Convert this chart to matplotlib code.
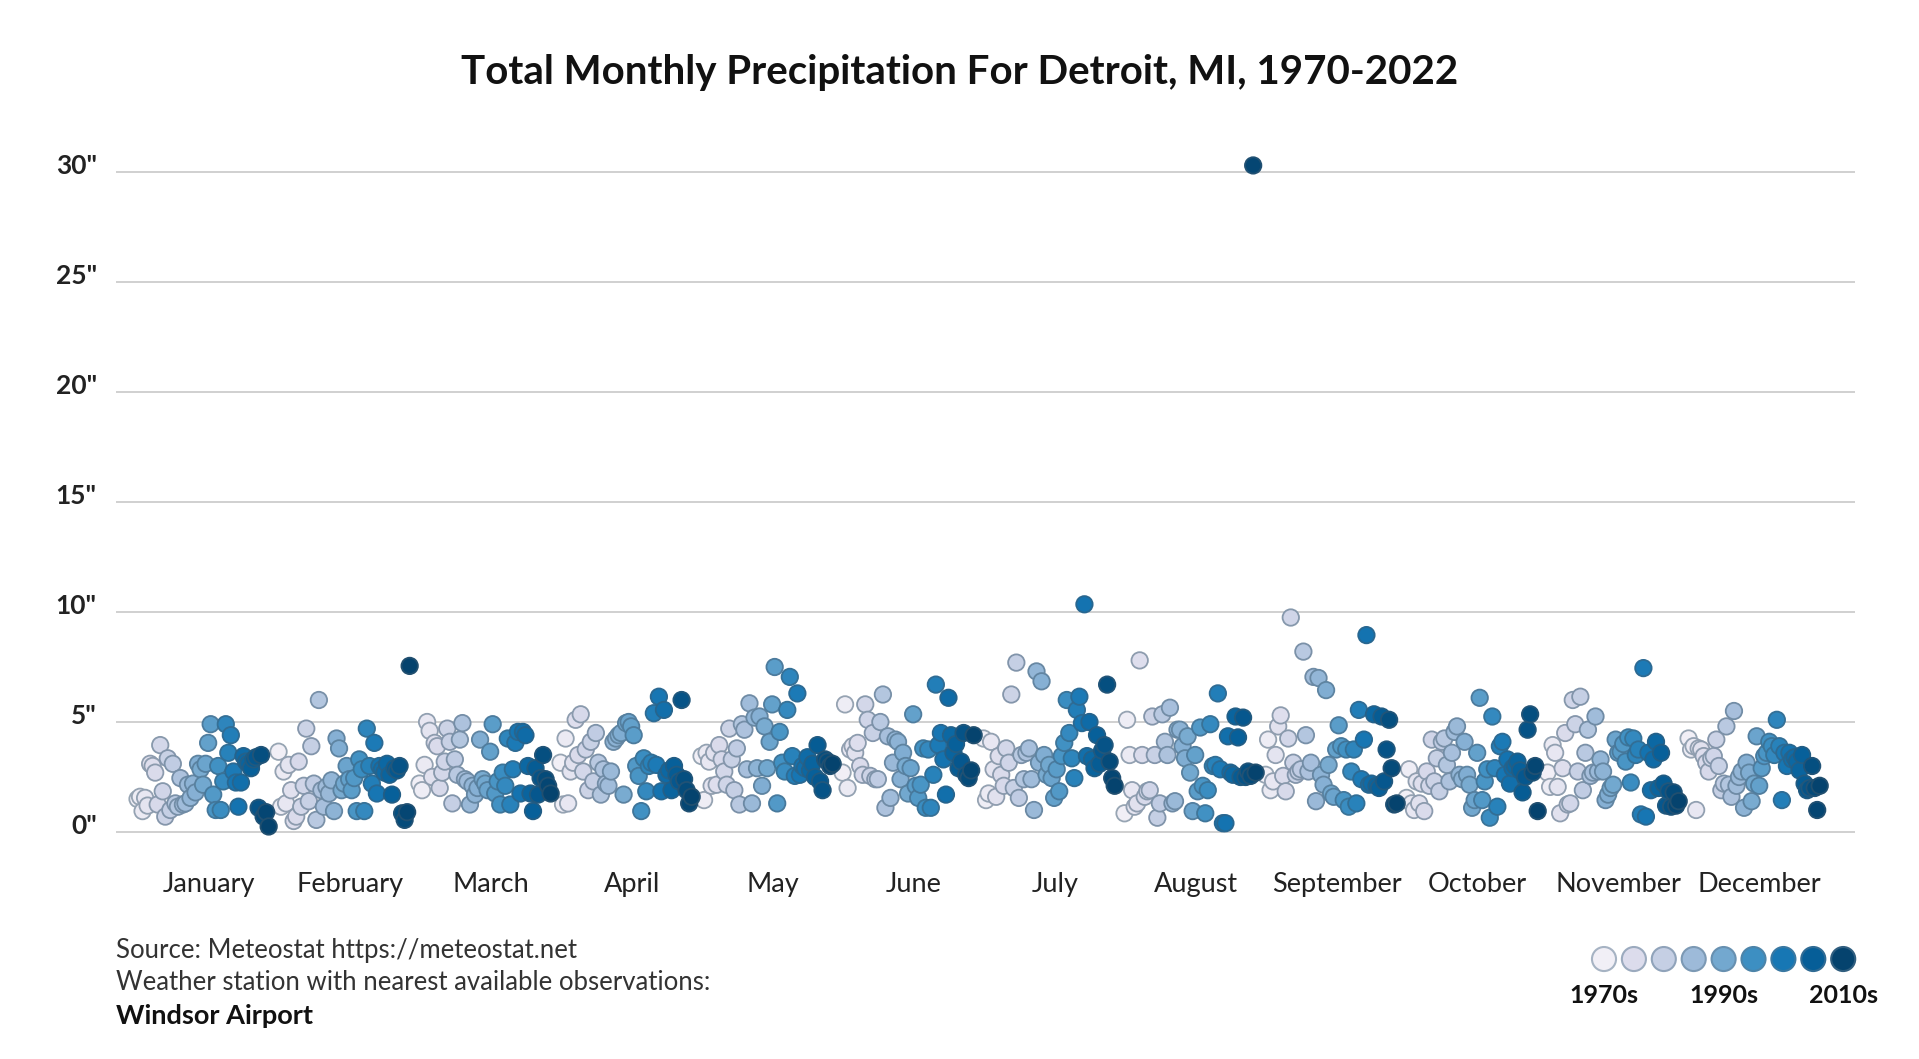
import matplotlib
matplotlib.use("Agg")
import matplotlib.pyplot as plt
import matplotlib.transforms as mtransforms
from matplotlib.colors import LinearSegmentedColormap, to_rgb
import numpy as np

plt.rcParams['font.family'] = ['Lato', 'DejaVu Sans']

months = ["January", "February", "March", "April", "May", "June",
          "July", "August", "September", "October", "November", "December"]
years = list(range(1970, 2023))

# total monthly precipitation (inches), one value per year 1970-2022
jan = [1.5, 1.6, 0.95, 1.55, 1.2, 3.1, 3.0, 2.7, 1.25, 3.95, 1.85, 0.7, 3.35, 1.0, 3.1, 1.3, 1.15, 2.45,
       1.25, 1.3, 2.15, 1.55, 2.2, 1.8, 3.1, 2.85, 2.15, 3.1, 4.05, 4.9, 1.7, 1.0, 3.0, 1.0, 2.3, 4.9,
       3.6, 4.4, 2.75, 2.25, 1.15, 2.25, 3.45, 3.2, 3.1, 2.9, 3.3, 3.4, 1.1, 3.5, 0.7, 0.9, 0.25]
feb = [3.65, 1.15, 2.75, 1.3, 3.05, 1.9, 0.5, 0.7, 3.2, 1.15, 2.1, 4.7, 1.4, 3.9, 2.2, 0.55, 6.0, 1.9,
       1.15, 2.05, 1.75, 2.35, 0.95, 4.25, 3.8, 1.9, 2.2, 3.0, 2.4, 1.9, 2.45, 0.95, 3.3, 2.85, 0.95, 4.7,
       3.0, 2.2, 4.05, 1.75, 3.0, 2.85, 2.7, 3.1, 2.6, 1.7, 2.9, 2.8, 3.0, 0.85, 0.55, 0.9, 7.55]
mar = [2.2, 1.9, 3.05, 5.0, 4.6, 2.5, 4.05, 3.9, 2.0, 2.7, 3.2, 4.7, 4.1, 1.3, 3.3, 2.6, 4.2, 4.95,
       2.4, 2.3, 1.25, 2.1, 1.7, 2.0, 4.2, 2.4, 2.2, 1.9, 3.65, 4.9, 1.75, 2.3, 1.25, 2.7, 2.1, 4.25,
       1.25, 2.85, 4.05, 4.55, 1.75, 4.55, 4.4, 3.0, 1.75, 0.95, 2.9, 1.7, 2.45, 3.5, 2.4, 2.1, 1.75]
apr = [3.15, 1.25, 4.25, 1.3, 2.75, 3.15, 5.1, 3.5, 5.35, 2.75, 3.75, 1.9, 4.1, 2.3, 4.5, 3.15, 1.7, 2.85,
       2.2, 2.1, 2.75, 4.1, 4.25, 4.4, 4.5, 1.7, 4.95, 5.0, 4.8, 4.4, 3.0, 2.55, 0.95, 3.35, 1.85, 3.0,
       3.15, 5.4, 3.05, 6.15, 1.85, 5.55, 2.6, 2.8, 1.9, 3.0, 2.6, 2.3, 6.0, 2.4, 1.9, 1.3, 1.6]
may = [3.45, 1.45, 3.6, 3.2, 2.1, 3.6, 2.15, 3.95, 3.3, 2.75, 2.15, 4.7, 3.3, 1.9, 3.8, 1.25, 4.9, 4.65,
       2.85, 5.85, 1.3, 5.2, 2.9, 5.25, 2.1, 4.8, 2.9, 4.1, 5.8, 7.5, 1.3, 4.55, 3.15, 2.75, 5.55, 7.05,
       3.45, 2.55, 6.3, 2.6, 3.0, 2.9, 3.4, 2.8, 3.1, 2.5, 3.95, 2.3, 1.9, 3.3, 3.2, 3.0, 3.1]
jun = [2.7, 5.8, 2.0, 3.75, 3.9, 3.6, 4.05, 3.0, 2.6, 5.8, 5.1, 2.55, 4.5, 2.4, 2.4, 5.0, 6.25, 1.1,
       4.35, 1.55, 3.15, 4.2, 4.1, 2.4, 3.6, 3.0, 1.75, 2.9, 5.35, 2.1, 1.55, 2.15, 3.8, 1.1, 3.75, 1.1,
       2.6, 6.7, 3.95, 4.5, 3.3, 1.7, 6.1, 4.4, 3.6, 4.0, 2.9, 3.2, 4.5, 2.6, 2.45, 2.8, 4.4]
jul = [4.25, 1.45, 1.75, 4.1, 2.85, 1.6, 3.45, 2.6, 2.1, 3.8, 3.15, 6.25, 2.0, 7.7, 1.55, 3.5, 2.4, 3.6,
       3.8, 2.4, 1.0, 7.3, 3.15, 6.85, 3.5, 2.6, 3.05, 2.45, 1.55, 2.85, 1.85, 3.45, 4.05, 6.0, 4.5, 3.35,
       2.45, 5.55, 6.15, 4.95, 10.35, 3.45, 5.0, 3.3, 2.9, 4.4, 3.1, 3.7, 3.95, 6.7, 3.2, 2.45, 2.1]
aug = [0.85, 5.1, 3.5, 1.9, 1.15, 1.3, 7.8, 3.5, 1.6, 1.85, 1.9, 5.25, 3.5, 0.65, 1.3, 5.35, 4.1, 3.5,
       5.65, 1.3, 1.4, 4.65, 4.65, 3.9, 3.35, 4.35, 2.7, 0.95, 3.5, 1.85, 4.75, 2.1, 0.85, 1.9, 4.9, 3.0,
       3.05, 6.3, 2.85, 0.4, 0.4, 4.35, 2.7, 2.6, 5.25, 4.3, 2.5, 5.2, 2.5, 2.75, 2.55, 30.3, 2.7]
sep = [2.6, 4.2, 1.9, 2.3, 3.5, 4.8, 5.3, 2.55, 1.85, 4.25, 9.75, 3.15, 2.6, 2.75, 2.85, 8.2, 4.4, 2.75,
       3.15, 7.05, 1.4, 7.0, 2.6, 2.15, 6.45, 3.05, 1.75, 1.6, 3.75, 4.85, 3.9, 1.45, 3.75, 1.15, 2.75, 3.75,
       1.3, 5.55, 2.4, 4.2, 8.95, 2.15, 2.2, 5.35, 2.1, 2.0, 5.25, 2.3, 3.75, 5.1, 2.9, 1.25, 1.3]
oct_ = [1.55, 2.85, 1.3, 1.0, 2.3, 1.3, 2.2, 0.95, 2.75, 2.1, 4.2, 2.3, 3.35, 1.85, 4.1, 4.25, 3.05, 2.3,
        3.6, 4.55, 4.8, 2.6, 2.4, 4.1, 2.6, 2.15, 1.1, 1.45, 3.6, 6.1, 1.45, 2.3, 2.85, 0.65, 5.25, 2.9,
        1.15, 3.9, 4.1, 2.6, 3.3, 2.2, 2.9, 3.0, 3.2, 2.8, 1.8, 2.5, 4.65, 5.35, 2.7, 3.0, 0.95]
nov = [2.7, 2.05, 3.95, 3.6, 2.05, 0.85, 2.9, 4.5, 1.25, 1.3, 6.0, 4.9, 2.75, 6.15, 1.9, 3.6, 4.65, 2.55,
       2.7, 5.25, 2.75, 3.3, 2.75, 1.45, 1.7, 2.0, 2.15, 4.2, 3.6, 3.65, 4.0, 3.2, 4.3, 2.25, 4.25, 3.5,
       3.75, 0.8, 7.45, 0.7, 3.6, 1.9, 3.3, 4.1, 2.0, 3.6, 2.2, 1.2, 1.85, 1.15, 1.8, 1.2, 1.4]
dec = [4.25, 3.75, 3.9, 1.0, 3.8, 3.75, 3.45, 3.15, 2.75, 3.35, 3.45, 4.2, 3.0, 1.9, 2.2, 4.8, 2.15, 1.6,
       5.5, 2.1, 2.5, 2.75, 1.1, 3.15, 2.7, 1.4, 2.2, 4.35, 2.1, 2.9, 3.45, 3.6, 4.1, 3.9, 3.5, 5.1,
       3.9, 1.45, 3.6, 3.0, 3.6, 3.3, 3.4, 3.2, 2.8, 3.5, 2.2, 1.9, 2.0, 3.0, 2.0, 1.0, 2.1]

precip = [jan, feb, mar, apr, may, jun, jul, aug, sep, oct_, nov, dec]

yticks = [0, 5, 10, 15, 20, 25, 30]
ytick_labels = ['0"', '5"', '10"', '15"', '20"', '25"', '30"']

decade_colors = ['#f1eff6', '#dcdcec', '#c5cfe4', '#9dbad9', '#73a8cf',
                 '#3d8fc2', '#1777b4', '#065e98', '#05436e']
legend_labels = ["1970s", "", "", "", "1990s", "", "", "", "2010s"]

cmap = LinearSegmentedColormap.from_list("dec", decade_colors)

# build points, year by year so newer dots sit on top
xs, ys, cs = [], [], []
for j, yr in enumerate(years):
    frac = j / (len(years) - 1)
    for m in range(12):
        xs.append(m + (frac - 0.5) * 0.93)
        ys.append(precip[m][j])
        cs.append(cmap(frac))
cs = np.array(cs)
edge = cs[:, :3] * 0.5 + np.array(to_rgb('#3d5a70')) * 0.5

fig = plt.figure(figsize=(19.19, 10.59), dpi=100)
ax = fig.add_axes([0.0605, 0.1832, 0.9062, 0.6855])

ax.scatter(xs, ys, s=140, c=cs, edgecolors=edge, linewidths=1.3, zorder=3)

ax.set_xlim(-0.617, 11.716)
ax.set_ylim(-1.5, 31.5)
ax.set_yticks(yticks)
ax.set_yticklabels(ytick_labels, fontsize=19, fontweight='bold', color='#222222')
ax.set_xticks([m + 0.04 for m in range(12)])
ax.set_xticklabels(months, fontsize=19.5, color='#222222')
ax.tick_params(axis='both', length=0)
ax.tick_params(axis='y', pad=14)
ax.tick_params(axis='x', pad=5)
ax.grid(True, axis='y', color='#c8c8c8', linewidth=1.2, zorder=0)
for s in ax.spines.values():
    s.set_visible(False)

# y labels sit a little above their gridline
lift = mtransforms.ScaledTranslation(0, 6 / 72, fig.dpi_scale_trans)
for lab in ax.get_yticklabels():
    lab.set_transform(lab.get_transform() + lift)

fig.text(0.5, 0.932, "Total Monthly Precipitation For Detroit, MI, 1970-2022",
         ha='center', va='center', fontsize=29, fontweight='bold', color='#111111')

fig.text(0.0605, 0.1029, "Source: Meteostat https://meteostat.net", fontsize=18.5,
         va='center', color='#333333')
fig.text(0.0605, 0.0718, "Weather station with nearest available observations:", fontsize=18.5,
         va='center', color='#333333')
fig.text(0.0605, 0.0406, "Windsor Airport", fontsize=19.5, fontweight='bold',
         va='center', color='#111111')

# decade legend
lx = [(1604 + 29.9 * i) / 1919 for i in range(len(decade_colors))]
ly = [0.0944] * len(decade_colors)
ledge = [tuple(np.array(to_rgb(c)) * 0.5 + np.array(to_rgb('#5a7890')) * 0.5) for c in decade_colors]
ax.scatter(lx, ly, s=300, c=decade_colors, edgecolors=ledge, linewidths=1.5,
           transform=fig.transFigure, clip_on=False, zorder=5)
for x, lab in zip(lx, legend_labels):
    if lab:
        fig.text(x, 0.0595, lab, ha='center', va='center', fontsize=18,
                 fontweight='bold', color='#111111')

fig.savefig("out.png", dpi=100)
